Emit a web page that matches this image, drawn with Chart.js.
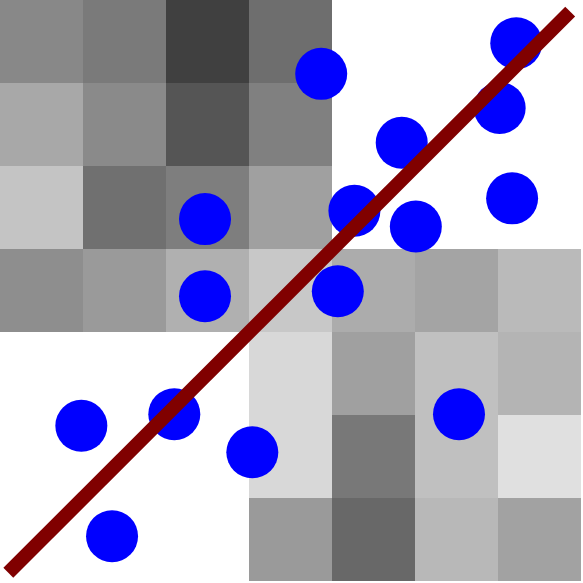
<!DOCTYPE html>
<html><head><script src="https://cdn.jsdelivr.net/npm/chart.js@4"></script>
<style>html,body{margin:0;padding:0;background:#fff}</style></head>
<body><canvas id="c" width="583" height="583"></canvas>
<script>
const blockA = [ // top-left, rows top to bottom, origin (0,0)
 ['#888888','#7a7a7a','#404040','#6e6e6e'],
 ['#a8a8a8','#8a8a8a','#555555','#808080'],
 ['#c4c4c4','#707070','#7e7e7e','#a0a0a0'],
 ['#8e8e8e','#9a9a9a','#b0b0b0','#c8c8c8']];
const blockB = [ // bottom-right, origin (3,3)
 ['#c8c8c8','#acacac','#a4a4a4','#bababa'],
 ['#d8d8d8','#a0a0a0','#c0c0c0','#b4b4b4'],
 ['#d8d8d8','#787878','#c0c0c0','#e0e0e0'],
 ['#9a9a9a','#686868','#b8b8b8','#a2a2a2']];
const pointsX = [3.87,6.22,6.02,4.84,2.47,4.27,5.01,6.17,2.47,4.07,0.98,2.10,3.04,5.53,1.35];
const pointsY = [0.89,0.52,1.30,1.72,2.64,2.54,2.73,2.39,3.57,3.51,5.13,4.99,5.45,4.99,6.46];
const lineX = [0.10,6.87];
const lineY = [6.90,0.14];

const heat = {id:'heat', beforeDatasetsDraw(ch){
  const c=ch.ctx, xs=ch.scales.x, ys=ch.scales.y;
  const draw=(b,ox,oy)=>b.forEach((row,r)=>row.forEach((col,k)=>{
    const x0=xs.getPixelForValue(ox+k), x1=xs.getPixelForValue(ox+k+1);
    const y0=ys.getPixelForValue(oy+r), y1=ys.getPixelForValue(oy+r+1);
    c.fillStyle=col; c.fillRect(x0,y0,x1-x0,y1-y0);}));
  draw(blockA,0,0); draw(blockB,3,3);
}};
new Chart(document.getElementById('c'),{
 type:'scatter',
 data:{datasets:[
  {type:'line',data:lineX.map((x,i)=>({x,y:lineY[i]})),borderColor:'#800000',borderWidth:14,pointRadius:0,order:0,clip:false},
  {data:pointsX.map((x,i)=>({x,y:pointsY[i]})),backgroundColor:'#0000ff',borderWidth:0,pointRadius:26,order:1,clip:false}
 ]},
 options:{responsive:false,devicePixelRatio:1,animation:false,layout:{padding:0,autoPadding:false},
  plugins:{legend:{display:false},tooltip:{enabled:false}},
  scales:{x:{type:'linear',min:0,max:583/83,display:false},
          y:{type:'linear',min:0,max:583/83,reverse:true,display:false}}},
 plugins:[heat]
});
</script></body></html>
